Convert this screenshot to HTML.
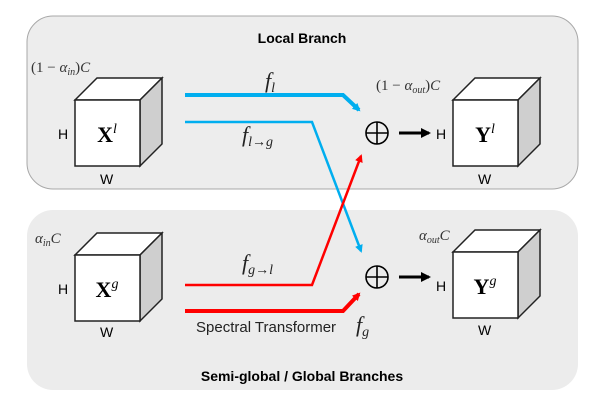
<!DOCTYPE html>
<html><head><meta charset="utf-8"><style>
body{margin:0;background:#fff}
svg{display:block}
.s{font-family:"Liberation Sans",sans-serif}
</style></head><body>
<svg width="604" height="411" viewBox="0 0 604 411" xmlns="http://www.w3.org/2000/svg">
<defs>
<marker id="ab" markerWidth="8" markerHeight="8" refX="6" refY="4" orient="auto" markerUnits="userSpaceOnUse"><path d="M0,0 L8,4 L0,8 Z" fill="#00aeef"/></marker>
<marker id="ar" markerWidth="8" markerHeight="8" refX="6" refY="4" orient="auto" markerUnits="userSpaceOnUse"><path d="M0,0 L8,4 L0,8 Z" fill="#ff0000"/></marker>
<marker id="ak" markerWidth="10" markerHeight="10" refX="8" refY="5" orient="auto" markerUnits="userSpaceOnUse"><path d="M0,0 L10,5 L0,10 Z" fill="#000"/></marker>
<g id="cube">
<path d="M0,0 L22,-22 L87,-22 L65,0 Z" fill="#fff" stroke="#222" stroke-width="1.5"/>
<path d="M65,0 L87,-22 L87,44 L65,66 Z" fill="#cfcfcf" stroke="#222" stroke-width="1.5"/>
<rect x="0" y="0" width="65" height="66" fill="#fff" stroke="#222" stroke-width="1.5"/>
</g>
</defs>
<rect x="27" y="16" width="551" height="173" rx="26" fill="#ededed" stroke="#a8a8a8" stroke-width="1"/>
<rect x="27" y="210" width="551" height="180" rx="26" fill="#ececec"/>
<text x="302" y="43" class="s" font-size="14" font-weight="bold" text-anchor="middle">Local Branch</text>
<text x="302" y="381" class="s" font-size="14" font-weight="bold" text-anchor="middle">Semi-global / Global Branches</text>

<use href="#cube" x="75" y="100"/>
<use href="#cube" x="75" y="255"/>
<use href="#cube" x="453" y="100"/>
<use href="#cube" x="453" y="252"/>

<text x="107" y="142" font-family="Liberation Serif,serif" font-weight="bold" font-size="22" text-anchor="middle">X<tspan font-size="14" dy="-9" font-style="italic" font-weight="normal">l</tspan></text>
<text x="107" y="297" font-family="Liberation Serif,serif" font-weight="bold" font-size="22" text-anchor="middle">X<tspan font-size="14" dy="-9" font-style="italic" font-weight="normal">g</tspan></text>
<text x="485" y="142" font-family="Liberation Serif,serif" font-weight="bold" font-size="22" text-anchor="middle">Y<tspan font-size="14" dy="-9" font-style="italic" font-weight="normal">l</tspan></text>
<text x="485" y="294" font-family="Liberation Serif,serif" font-weight="bold" font-size="22" text-anchor="middle">Y<tspan font-size="14" dy="-9" font-style="italic" font-weight="normal">g</tspan></text>

<g class="s" font-size="14">
<text x="58" y="139">H</text><text x="100" y="184">W</text>
<text x="58" y="294">H</text><text x="100" y="337">W</text>
<text x="436" y="139">H</text><text x="478" y="184">W</text>
<text x="436" y="291">H</text><text x="478" y="335">W</text>
</g>
<g font-family="Liberation Serif,serif" font-size="15" fill="#333">
<text x="31" y="72">(1 − <tspan font-style="italic">α</tspan><tspan font-style="italic" font-size="10" dy="3">in</tspan><tspan dy="-3">)</tspan><tspan font-style="italic">C</tspan></text>
<text x="376" y="90">(1 − <tspan font-style="italic">α</tspan><tspan font-style="italic" font-size="10" dy="3">out</tspan><tspan dy="-3">)</tspan><tspan font-style="italic">C</tspan></text>
<text x="35" y="243"><tspan font-style="italic">α</tspan><tspan font-style="italic" font-size="10" dy="3">in</tspan><tspan dy="-3" font-style="italic">C</tspan></text>
<text x="419" y="240"><tspan font-style="italic">α</tspan><tspan font-style="italic" font-size="10" dy="3">out</tspan><tspan dy="-3" font-style="italic">C</tspan></text>
</g>
<g font-family="Liberation Serif,serif" font-style="italic" fill="#222">
<text x="265" y="88" font-size="22">f<tspan font-size="14" dy="4">l</tspan></text>
<text x="242" y="142" font-size="22">f<tspan font-size="14" dy="4">l→g</tspan></text>
<text x="242" y="270" font-size="22">f<tspan font-size="14" dy="4">g→l</tspan></text>
<text x="356" y="332" font-size="22">f<tspan font-size="14" dy="4">g</tspan></text>
</g>
<text x="196" y="332" class="s" font-size="15" fill="#222">Spectral Transformer</text>

<polyline points="185,95 343,95 359,110" fill="none" stroke="#00aeef" stroke-width="4" marker-end="url(#ab)"/>
<polyline points="185,122 312,122 361,251" fill="none" stroke="#00aeef" stroke-width="2.5" marker-end="url(#ab)"/>
<polyline points="185,285 312,285 361,156" fill="none" stroke="#ff0000" stroke-width="2.5" marker-end="url(#ar)"/>
<polyline points="185,311 343,311 359,294" fill="none" stroke="#ff0000" stroke-width="4" marker-end="url(#ar)"/>

<g fill="none" stroke="#000" stroke-width="1.6">
<circle cx="377" cy="133" r="11"/><path d="M366,133 H388 M377,122 V144"/>
<circle cx="377" cy="277" r="11"/><path d="M366,277 H388 M377,266 V288"/>
</g>
<line x1="399" y1="133" x2="429" y2="133" stroke="#000" stroke-width="3" marker-end="url(#ak)"/>
<line x1="399" y1="277" x2="429" y2="277" stroke="#000" stroke-width="3" marker-end="url(#ak)"/>
</svg>
</body></html>
